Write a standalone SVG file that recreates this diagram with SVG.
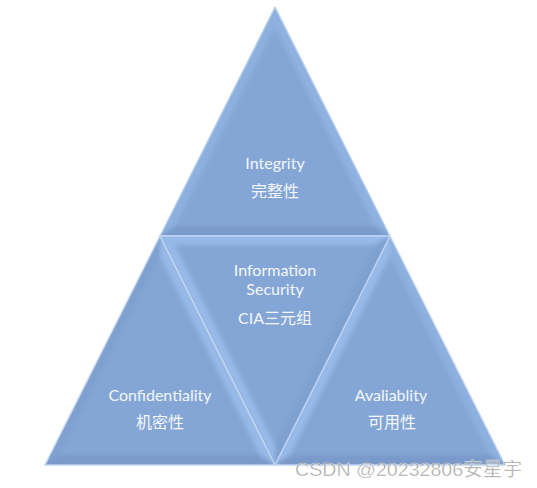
<svg xmlns="http://www.w3.org/2000/svg" width="537" height="488" viewBox="0 0 537 488">
<defs>
<style>
.base{fill:#84A6D6}
.lt{fill:#8DB0DF}
.lt2{fill:#96B9E8}
.dk{fill:#7A9ACA}
.md{fill:#7FA0D0}
.edge{fill:none;stroke:#BED4F2;stroke-width:1.4;stroke-linejoin:round}
.t{font-family:Lato,"Open Sans","Liberation Sans",sans-serif;font-size:16px;fill:#F3F7FC;text-anchor:middle}
.c{font-family:"Noto Sans CJK SC",sans-serif;font-size:16px;fill:#F3F7FC;text-anchor:middle}
.wm{font-family:"Liberation Sans","Noto Sans CJK SC",sans-serif;font-size:19px;fill:#8a8a8a;fill-opacity:0.8;stroke:#ffffff;stroke-width:0.6;stroke-opacity:0.7}
</style>
<filter id="soft" x="-5%" y="-5%" width="110%" height="110%"><feGaussianBlur stdDeviation="2.2"/></filter>
<clipPath id="cpTop"><polygon points="275,7 160,236 390,236"/></clipPath>
<clipPath id="cpLeft"><polygon points="160,236 45,465 275,465"/></clipPath>
<clipPath id="cpRight"><polygon points="390,236 275,465 505,465"/></clipPath>
<clipPath id="cpMid"><polygon points="160,236 390,236 275,465"/></clipPath>
</defs>
<rect width="537" height="488" fill="#ffffff"/>
<g id="connectors"></g>
<g id="integrity">
<polygon class="base" points="275,7 160,236 390,236"/>
<g clip-path="url(#cpTop)"><g filter="url(#soft)">
<polygon class="lt" points="275,2 155,238 175,226 275,27"/>
<polygon class="lt2" points="275,2 395,238 375,226 275,27" opacity="0.6"/>
<polygon class="dk" points="155,240 395,240 375,226 175,226"/>
</g></g>
<polygon class="edge" points="275,7 160,236 390,236"/>
<text class="t" x="275" y="169">Integrity</text>
<text class="c" x="275" y="197">完整性</text>
</g>
<g id="confidentiality">
<polygon class="base" points="160,236 45,465 275,465"/>
<g clip-path="url(#cpLeft)"><g filter="url(#soft)">
<polygon class="md" points="160,231 40,467 60,455 160,256"/>
<polygon class="lt2" points="160,231 280,467 260,455 160,256"/>
<polygon class="dk" points="40,469 280,469 260,455 60,455"/>
</g></g>
<polygon class="edge" points="160,236 45,465 275,465"/>
<text class="t" x="160" y="401">Confidentiality</text>
<text class="c" x="160" y="428">机密性</text>
</g>
<g id="availability">
<polygon class="base" points="390,236 275,465 505,465"/>
<g clip-path="url(#cpRight)"><g filter="url(#soft)">
<polygon class="lt2" points="390,231 270,467 290,455 390,256"/>
<polygon class="lt" points="390,231 510,467 490,455 390,256"/>
<polygon class="dk" points="270,469 510,469 490,455 290,455"/>
</g></g>
<polygon class="edge" points="390,236 275,465 505,465"/>
<text class="t" x="391" y="401">Avaliablity</text>
<text class="c" x="392" y="428">可用性</text>
</g>
<g id="information-security">
<polygon class="base" points="160,236 390,236 275,465"/>
<g clip-path="url(#cpMid)"><g filter="url(#soft)">
<polygon class="lt2" points="155,232 395,232 375,245 175,245"/>
<polygon class="lt2" points="155,232 275,470 275,445 175,245"/>
<polygon class="md" points="395,232 275,470 275,445 375,245"/>
</g></g>
<polygon class="edge" points="160,236 390,236 275,465" stroke-width="1.8"/>
<text class="t" x="275" y="276">Information</text>
<text class="t" x="275" y="295">Security</text>
<text class="c" x="275" y="324"><tspan font-family="Lato,'Open Sans',sans-serif">CIA</tspan>三元组</text>
</g>
<text class="wm" x="295" y="476" textLength="227" lengthAdjust="spacingAndGlyphs">CSDN @20232806安星宇</text>
</svg>
